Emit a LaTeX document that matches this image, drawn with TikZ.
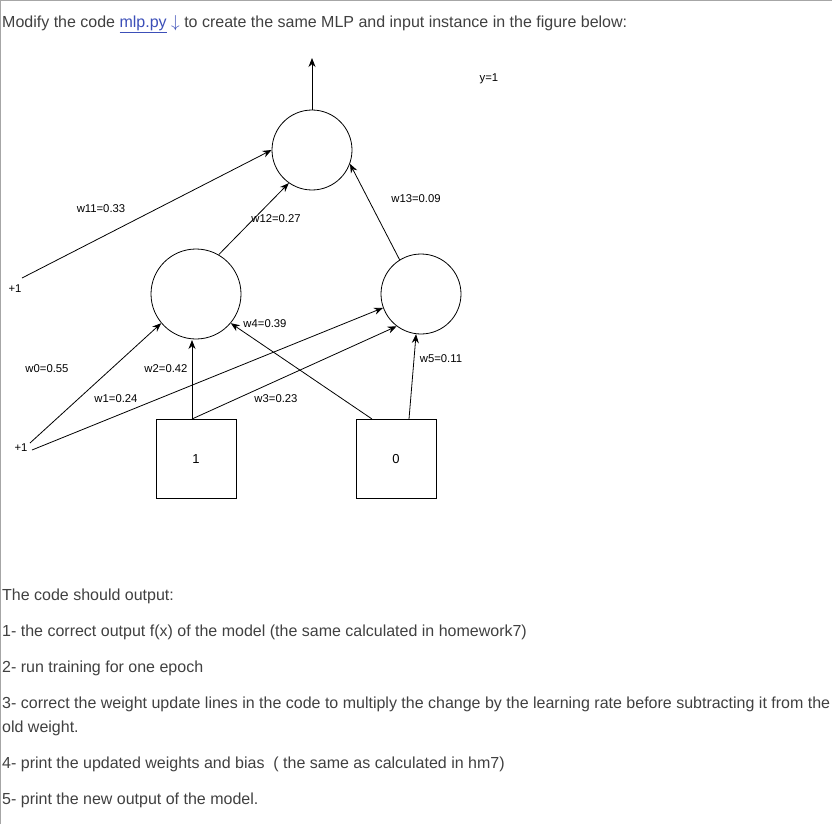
\documentclass[tikz,border=0pt]{standalone}
\usepackage{fontspec}
\setmainfont{Liberation Sans}
\usetikzlibrary{arrows.meta}
\begin{document}
\begin{tikzpicture}[x=1pt,y=-1pt,
  neuron/.style={draw,circle,inner sep=0pt,line width=0.8pt},
  inbox/.style={draw,minimum width=80pt,minimum height=79pt,inner sep=0pt,line width=0.8pt,font=\fontsize{13}{15}\selectfont},
  lab/.style={font=\fontsize{11.3}{13}\selectfont,inner sep=0pt},
  body/.style={font=\fontsize{16}{18}\selectfont,anchor=west,inner sep=0pt,text=black!75},
  conn/.style={-{Stealth[length=9pt,width=7pt]},line width=0.8pt}]
\useasboundingbox (0,0) rectangle (832,824);
\draw[gray!70,line width=1.5pt] (0.7,824) -- (0.7,0.7) -- (832,0.7);
\node[body] (t0) at (2,24) {Modify the code \textcolor[HTML]{3C4FB8}{\underline{mlp.py}} \textcolor[HTML]{3C4FB8}{$\downarrow$} to create the same MLP and input instance in the figure below:};
\node[neuron,minimum size=80pt] (o) at (312,150) {};
\node[neuron,minimum size=90pt] (h1) at (196,294) {};
\node[neuron,minimum size=80pt] (h2) at (421,294) {};
\node[inbox] (x1) at (196,459) {1};
\node[inbox] (x2) at (396,459) {0};
\node[lab] (p1) at (15,289) {+1};
\node[lab] (p2) at (21,448) {+1};
\coordinate (top) at (312,58);
\coordinate (p1e) at (22,278);
\coordinate (p2a) at (30,443);
\coordinate (p2b) at (32,450);
\draw[conn] (o.north) -- (top);
\draw[conn] (p1e) -- (o.west);
\draw[conn] (h1.60) -- (o.235);
\draw[conn] (h2.122) -- (o.-20);
\draw[conn] (p2a) -- (h1.220);
\draw[conn] (p2b) -- (h2.200);
\draw[conn] (x1.north -| 192,0) -- (192,340);
\draw[conn] (192,419) -- (h2.233);
\draw[conn] (372,419) -- (h1.-40);
\draw[conn] (409,419) -- (h2.263);
\node[lab] at (489,79) {y=1};
\node[lab] at (101,209) {w11=0.33};
\node[lab] at (276,219) {w12=0.27};
\node[lab] at (416,199) {w13=0.09};
\node[lab] at (265,324) {w4=0.39};
\node[lab] at (47,369) {w0=0.55};
\node[lab] at (166,369) {w2=0.42};
\node[lab] at (441,359) {w5=0.11};
\node[lab] at (116,399) {w1=0.24};
\node[lab] at (276,399) {w3=0.23};
\node[body] (l1) at (2,596) {The code should output:};
\node[body] (l2) at (2,632) {1- the correct output f(x) of the model (the same calculated in homework7)};
\node[body] (l3) at (2,668) {2- run training for one epoch};
\node[body] (l4) at (2,704) {3- correct the weight update lines in the code to multiply the change by the learning rate before subtracting it from the};
\node[body] (l5) at (2,728) {old weight.};
\node[body] (l6) at (2,764) {4- print the updated weights and bias \ ( the same as calculated in hm7)};
\node[body] (l7) at (2,800) {5- print the new output of the model.};
\end{tikzpicture}
\end{document}
